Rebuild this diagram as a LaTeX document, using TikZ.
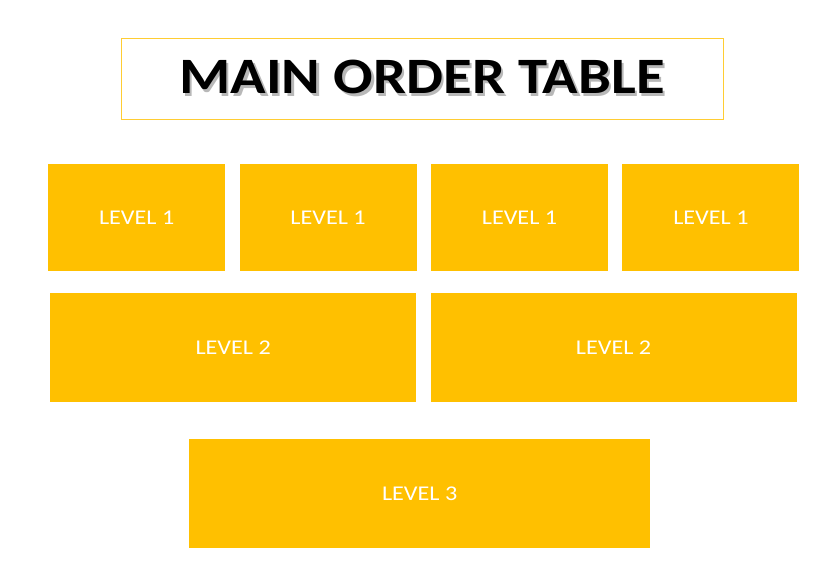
\documentclass[tikz,border=0pt]{standalone}
\usepackage{fontspec}
\setmainfont{Carlito}[FakeStretch=1.15]
\usetikzlibrary{positioning}
\definecolor{gold}{HTML}{FFC000}
% text with a soft drop shadow
\newcommand\shadowed[1]{\makebox[0pt][l]{\hspace{2.5pt}\raisebox{-2.5pt}{\color{black!28}#1}}#1}
\tikzset{
    %Define style for the yellow blocks
    block/.style={
      rectangle,
      fill=gold,
      text=white,
      inner sep=0pt,
      font=\fontsize{21}{25}\selectfont},
    lvlone/.style={block, minimum width=177pt, minimum height=107pt},
    lvltwo/.style={block, minimum width=366pt, minimum height=109pt},
    lvlthree/.style={block, minimum width=461pt, minimum height=109pt},
    % Define style for the title
    headbox/.style={
      rectangle,
      draw=gold!80, line width=0.8pt,
      minimum width=602pt,
      minimum height=81pt,
      font=\fontsize{51}{60}\selectfont\bfseries}
}

\begin{document}
\begin{tikzpicture}[x=1pt, y=-1pt]
    \useasboundingbox (0,0) rectangle (818,571);

    \node[headbox] (head) at (422,78.5) {\shadowed{MAIN ORDER TABLE}};

    \node[lvlone, anchor=north west] (l1a) at (48,164) {LEVEL 1};
    \node[lvlone, right=14pt of l1a] (l1b) {LEVEL 1};
    \node[lvlone, right=14pt of l1b] (l1c) {LEVEL 1};
    \node[lvlone, right=14pt of l1c] (l1d) {LEVEL 1};

    \node[lvltwo, anchor=north west] (l2a) at (50,293) {LEVEL 2};
    \node[lvltwo, right=14pt of l2a] (l2b) {LEVEL 2};

    \node[lvlthree, anchor=north west] (l3) at (189,439) {LEVEL 3};
\end{tikzpicture}
\end{document}
